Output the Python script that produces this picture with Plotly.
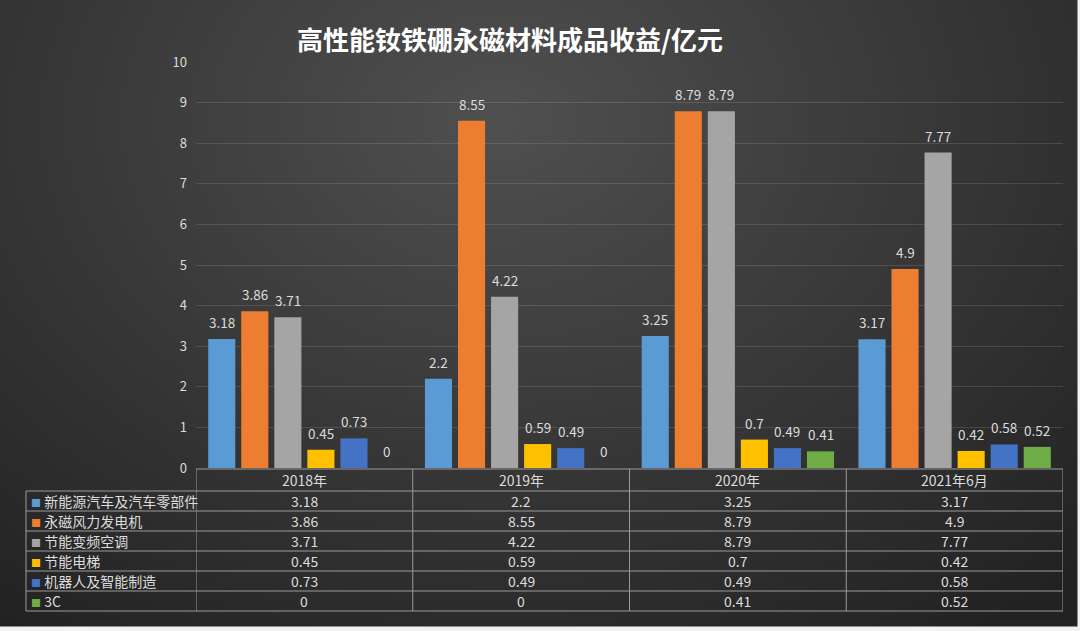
import plotly.graph_objects as go

categories = ["2018年", "2019年", "2020年", "2021年6月"]
series_names = ["新能源汽车及汽车零部件", "永磁风力发电机", "节能变频空调", "节能电梯", "机器人及智能制造", "3C"]
s_nev = [3.18, 2.2, 3.25, 3.17]
s_wind = [3.86, 8.55, 8.79, 4.9]
s_ac = [3.71, 4.22, 8.79, 7.77]
s_elev = [0.45, 0.59, 0.7, 0.42]
s_robot = [0.73, 0.49, 0.49, 0.58]
s_3c = [0, 0, 0.41, 0.52]
series_values = [s_nev, s_wind, s_ac, s_elev, s_robot, s_3c]
colors = ["#5B9BD5", "#ED7D31", "#A5A5A5", "#FFC000", "#4472C4", "#70AD47"]
y_ticks = [0, 1, 2, 3, 4, 5, 6, 7, 8, 9, 10]
title = "高性能钕铁硼永磁材料成品收益/亿元"

W, H = 1080, 631
ML, MR, MT, MB = 196, 17, 62, 163
PW, PH = W - ML - MR, H - MT - MB
FONT = "Noto Sans CJK SC, Noto Sans, sans-serif"
TXT = "#dcdcdc"
LINE = "#9a9a9a"
BARGAP, GROUPGAP = 0.085, 0.18


def pxx(px):
    return (px - ML) / PW


def pxy(py):
    return (H - MB - py) / PH


fig = go.Figure()
for name, vals, col in zip(series_names, series_values, colors):
    fig.add_trace(go.Bar(
        x=categories, y=vals, name=name,
        marker=dict(color=col, line=dict(width=0)),
        cliponaxis=False,
    ))

shapes = []
# background radial-ish gradient (many faint layers for a smooth look)
n = 45
cx, cy = 500, 120
for i in range(n):
    f = 1 - i / n
    rx, ry = 820 * f, 620 * f
    shapes.append(dict(type="circle", xref="paper", yref="paper", layer="below",
                       x0=pxx(cx - rx), x1=pxx(cx + rx), y0=pxy(cy + ry), y1=pxy(cy - ry),
                       fillcolor="rgba(255,255,255,0.0075)", line=dict(width=0)))

# thin light frame at bottom/right edge of the picture
shapes.append(dict(type="rect", xref="paper", yref="paper", layer="above",
                   x0=pxx(0), x1=pxx(W), y0=pxy(H), y1=pxy(626.5),
                   fillcolor="#f2f2f2", line=dict(width=0)))
shapes.append(dict(type="rect", xref="paper", yref="paper", layer="above",
                   x0=pxx(1077.5), x1=pxx(W), y0=pxy(H), y1=pxy(0),
                   fillcolor="#f2f2f2", line=dict(width=0)))

# table grid
top, head_b, row_h = 469, 491, 20
nrows = len(series_names)
bottom = head_b + row_h * nrows
left = 26
shapes.append(dict(type="line", xref="paper", yref="paper", x0=0, x1=1,
                   y0=pxy(top), y1=pxy(top), line=dict(color=LINE, width=1)))
for r in range(nrows + 1):
    yy = pxy(head_b + r * row_h)
    shapes.append(dict(type="line", xref="paper", yref="paper", x0=pxx(left), x1=1,
                       y0=yy, y1=yy, line=dict(color=LINE, width=1)))
for i in range(len(categories) + 1):
    shapes.append(dict(type="line", xref="x", yref="paper", x0=i - 0.5, x1=i - 0.5,
                       y0=pxy(top), y1=pxy(bottom), line=dict(color=LINE, width=1)))
shapes.append(dict(type="line", xref="paper", yref="paper", x0=pxx(left), x1=pxx(left),
                   y0=pxy(head_b), y1=pxy(bottom), line=dict(color=LINE, width=1)))

annotations = []
# bar value labels, placed at each bar's data value with the grouped-bar offset
cat_px = PW / len(categories)
slot = cat_px * (1 - BARGAP) / len(series_names)
for j, vals in enumerate(series_values):
    off = (j - (len(series_names) - 1) / 2) * slot
    for i, v in enumerate(vals):
        annotations.append(dict(x=i, y=v, xref="x", yref="y", text=str(v), showarrow=False,
                                xshift=off, yshift=17, xanchor="center", yanchor="middle",
                                font=dict(color=TXT, size=13.5, family=FONT)))

for i, c in enumerate(categories):
    annotations.append(dict(x=i, y=pxy((top + head_b) / 2), xref="x", yref="paper",
                            text=c, showarrow=False, font=dict(color=TXT, size=14, family=FONT),
                            xanchor="center", yanchor="middle"))
for r, (name, vals, col) in enumerate(zip(series_names, series_values, colors)):
    yc = pxy(head_b + r * row_h + row_h / 2)
    annotations.append(dict(x=pxx(left + 3), y=yc, xref="paper", yref="paper",
                            text=f"<span style='color:{col};font-size:10px'>■</span> {name}",
                            showarrow=False, font=dict(color=TXT, size=14, family=FONT),
                            xanchor="left", yanchor="middle"))
    for i, v in enumerate(vals):
        annotations.append(dict(x=i, y=yc, xref="x", yref="paper", text=str(v),
                                showarrow=False, font=dict(color=TXT, size=14, family=FONT),
                                xanchor="center", yanchor="middle"))

annotations.append(dict(x=pxx(510), y=pxy(39), xref="paper", yref="paper",
                        text=f"<b>{title}</b>", showarrow=False,
                        font=dict(color="#ffffff", size=26, family=FONT),
                        xanchor="center", yanchor="middle"))

fig.update_layout(
    width=W, height=H,
    margin=dict(l=ML, r=MR, t=MT, b=MB, pad=0),
    paper_bgcolor="#222222",
    plot_bgcolor="rgba(0,0,0,0)",
    barmode="group", bargap=BARGAP, bargroupgap=GROUPGAP,
    showlegend=False,
    font=dict(family=FONT, color=TXT),
    shapes=shapes, annotations=annotations,
    xaxis=dict(showticklabels=False, showgrid=False, zeroline=False, showline=False,
               range=[-0.5, 3.5]),
    yaxis=dict(range=[0, 10], tickvals=y_ticks, showgrid=True,
               gridcolor="rgba(255,255,255,0.12)", gridwidth=1, zeroline=False,
               showline=False, ticks="", ticklabelstandoff=8,
               tickfont=dict(color=TXT, size=13, family=FONT)),
)

fig.write_html("out.html")
